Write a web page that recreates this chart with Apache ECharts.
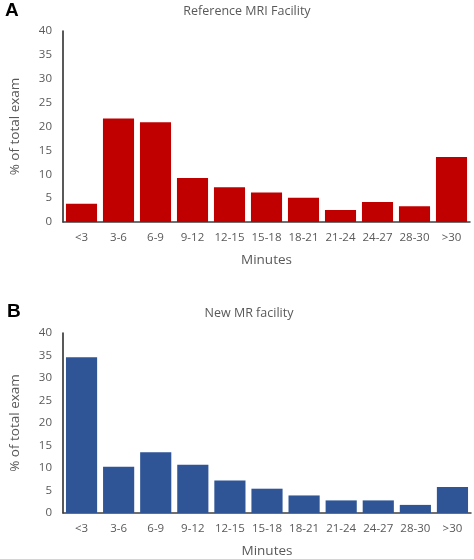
<!DOCTYPE html>
<html>
<head>
<meta charset="utf-8">
<script src="https://cdn.jsdelivr.net/npm/echarts@6/dist/echarts.min.js"></script>
<style>
  html, body { margin: 0; padding: 0; background: #fff; }
  #main { width: 474px; height: 559px; }
</style>
</head>
<body>
<div id="main"></div>
<script>
var categories = ['<3', '3-6', '6-9', '9-12', '12-15', '15-18', '18-21', '21-24', '24-27', '28-30', '>30'];
var referenceMri = [3.8, 21.7, 20.9, 9.2, 7.3, 6.2, 5.1, 2.5, 4.2, 3.3, 13.6];
var newMr = [34.6, 10.3, 13.5, 10.7, 7.2, 5.4, 3.9, 2.8, 2.8, 1.8, 5.8];

var font = '"Open Sans", "Noto Sans", sans-serif';
var textColor = '#595959';

function xAxisFor(idx) {
    return {
        type: 'category',
        gridIndex: idx,
        data: categories,
        axisLine: { lineStyle: { color: '#404040', width: 1.5 } },
        axisTick: { show: false },
        axisLabel: { color: textColor, fontFamily: font, fontSize: 11.5, margin: 10, interval: 0 },
        name: 'Minutes',
        nameLocation: 'middle',
        nameGap: 31,
        nameTextStyle: { color: textColor, fontFamily: font, fontSize: 13.5 }
    };
}

function yAxisFor(idx) {
    return {
        type: 'value',
        gridIndex: idx,
        min: 0,
        max: 40,
        interval: 5,
        splitLine: { show: false },
        axisLine: { show: true, lineStyle: { color: '#222', width: 1.5 } },
        axisTick: { show: false },
        axisLabel: { color: textColor, fontFamily: font, fontSize: 11.5, margin: 11 },
        name: '% of total exam',
        nameLocation: 'middle',
        nameGap: 41,
        nameRotate: 90,
        nameTextStyle: { color: textColor, fontFamily: font, fontSize: 13.5 }
    };
}

var myChart = echarts.init(document.getElementById('main'));
var option = {
    animation: false,
    title: [
        { text: 'A', left: 0, top: -4, textStyle: { fontFamily: 'Liberation Sans, Arial', fontWeight: 'bold', fontSize: 19, color: '#000' } },
        { text: 'Reference MRI Facility', left: 242, top: 0, textAlign: 'center', textStyle: { fontFamily: font, fontWeight: 'normal', fontSize: 12.5, color: textColor } },
        { text: 'B', left: 2, top: 297, textStyle: { fontFamily: 'Liberation Sans, Arial', fontWeight: 'bold', fontSize: 19, color: '#000' } },
        { text: 'New MR facility', left: 244, top: 302, textAlign: 'center', textStyle: { fontFamily: font, fontWeight: 'normal', fontSize: 12.5, color: textColor } }
    ],
    grid: [
        { left: 61, top: 31, width: 409, height: 191 },
        { left: 62, top: 333, width: 409, height: 184 }
    ],
    xAxis: [xAxisFor(0), xAxisFor(1)],
    yAxis: [yAxisFor(0), yAxisFor(1)],
    series: [
        {
            name: 'Reference MRI Facility',
            type: 'bar',
            xAxisIndex: 0,
            yAxisIndex: 0,
            data: referenceMri,
            barCategoryGap: '16%',
            itemStyle: { color: '#C00000' }
        },
        {
            name: 'New MR facility',
            type: 'bar',
            xAxisIndex: 1,
            yAxisIndex: 1,
            data: newMr,
            barCategoryGap: '16%',
            itemStyle: { color: '#2F5597' }
        }
    ]
};
myChart.setOption(option);
</script>
</body>
</html>
